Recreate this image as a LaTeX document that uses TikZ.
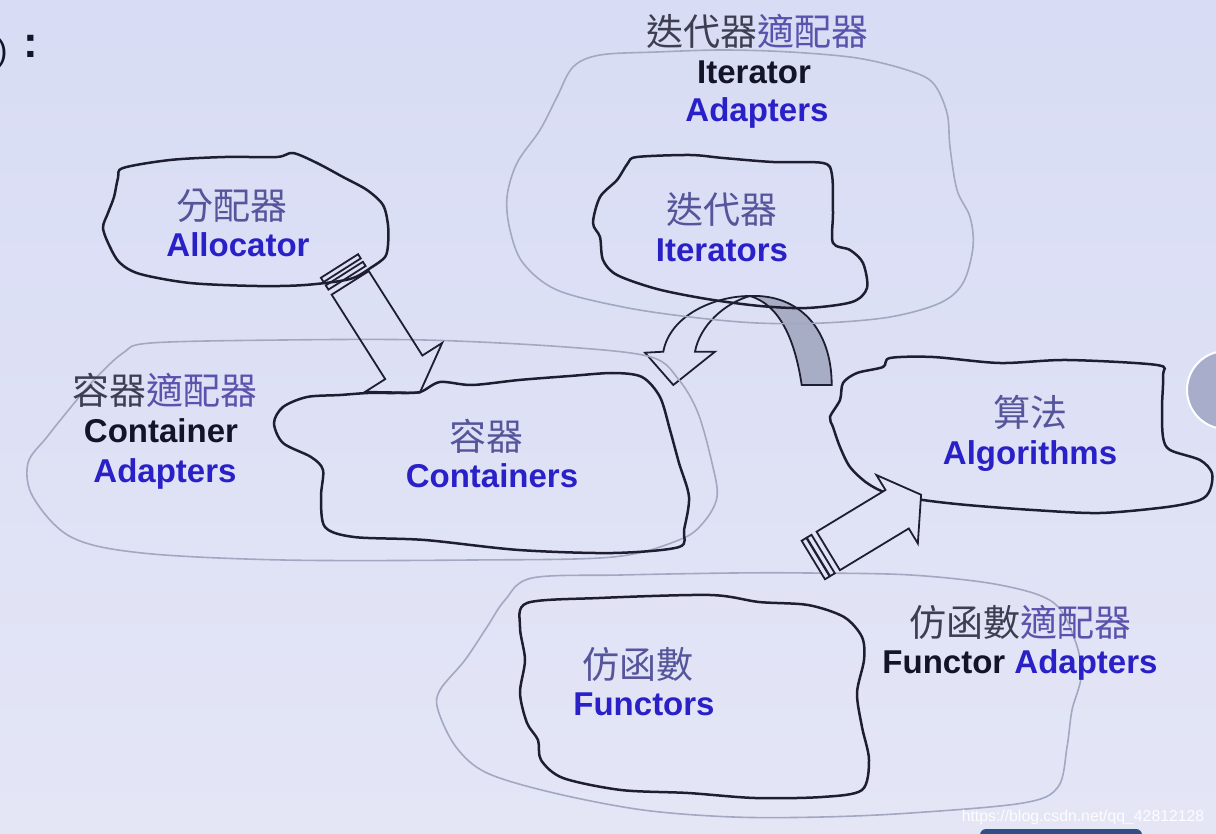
\documentclass[tikz,border=0pt]{standalone}
\usepackage{fontspec}
\setmainfont{Liberation Sans}
\newfontfamily\cjk{Noto Sans CJK TC}
\definecolor{bgtop}{HTML}{D8DCF4}
\definecolor{bgbot}{HTML}{E4E6F6}
\definecolor{bgmid}{HTML}{E0E2F5}
\definecolor{inkc}{HTML}{1E1E30}
\definecolor{greyc}{HTML}{A3A8C2}
\definecolor{blu}{HTML}{2A20C8}
\definecolor{blk}{HTML}{141428}
\definecolor{cjkc}{HTML}{56549A}
\definecolor{cjkg}{HTML}{3E3E52}
\definecolor{cjkp}{HTML}{5A52AC}
\definecolor{shadec}{HTML}{A8ADC6}
\definecolor{circc}{HTML}{A7ADCB}
\definecolor{barc}{HTML}{2F4F86}
\tikzset{
  blobk/.style={draw=inkc, line width=1.25pt},
  blobg/.style={draw=greyc, line width=0.8pt},
  arrowline/.style={draw=inkc, line width=0.9pt, line join=miter},
  cjklab/.style={font=\cjk\fontsize{18.5}{20}\selectfont, text=cjkc, anchor=base, inner sep=0pt},
  enb/.style={font=\bfseries\fontsize{16.5}{18}\selectfont, text=blu, anchor=base, inner sep=0pt},
  enk/.style={enb, text=blk},
}
\begin{document}
\begin{tikzpicture}[x=0.5pt, y=-0.5pt]
\useasboundingbox (0,0) rectangle (1216,834);
\clip (0,0) rectangle (1216,834);
\shade[top color=bgtop, bottom color=bgbot] (0,0) rectangle (1216,834);

% right edge circle and bottom bar
\fill[circc] (1226,390) circle (39);
\draw[white, line width=1pt] (1226,390) circle (39);
\fill[barc, rounded corners=3pt] (980,829) rectangle (1142,850);

% curved arrow (Iterators -> Containers)
\filldraw[fill=shadec, arrowline] (750,296) .. controls (800,294) and (831.7,330) .. (831.7,385)
  -- (801.7,385) .. controls (795,340) and (780,305) .. (750,296) -- cycle;
\draw[arrowline] (750,296) .. controls (715,296) and (670,315) .. (663.3,351.7)
  -- (645,352.7) -- (673.3,385) -- (715,351.7) -- (695,351.7)
  .. controls (700,325) and (725,303) .. (750,296);

% grey adapter blobs
\draw[blobg] plot[smooth cycle, tension=0.55] coordinates {(600,55) (657,52) (723,50) (790,52) (857,58) (907,70) (933,83) (947,113) (950,147) (957,190) (970,217) (973,247) (963,283) (940,303) (890,317) (823,323) (757,323) (690,317) (623,307) (557,290) (523,263) (510,230) (507,197) (517,163) (540,130) (557,97) (573,67)};
\draw[blobg] plot[smooth cycle, tension=0.55] coordinates {(123,353) (151,343) (283,340) (425,340) (566,347) (651,357) (679,380) (698,413) (712,463) (717,497) (703,523) (679,540) (613,557) (472,560) (283,560) (142,553) (71,537) (33,497) (28,463) (47,437) (71,407) (94,380)};
\draw[blobg] plot[smooth cycle, tension=0.55] coordinates {(532,578) (621,575) (733,573) (808,573) (911,575) (1000,585) (1054,603) (1076,643) (1081,677) (1072,710) (1067,747) (1058,787) (1023,803) (911,813) (822,817) (733,817) (643,810) (554,793) (487,773) (456,747) (438,710) (440,690) (465,660) (487,627) (505,600)};

% black blobs
\draw[blobk] plot[smooth cycle, tension=0.5] coordinates {(123,168) (170,160) (225,157) (277,157) (293,153) (317,163) (343,177) (367,190) (383,205) (388,225) (388,245) (385,257) (372,267) (350,279) (305,285) (257,286) (190,283) (140,274) (120,263) (110,247) (103,228) (108,213) (114,197) (118,178)};
\draw[blobk] plot[smooth cycle, tension=0.5] coordinates {(637,157) (690,155) (723,158) (773,162) (823,163) (832,175) (833,213) (833,243) (850,250) (863,263) (867,288) (852,302) (807,308) (760,306) (707,299) (657,289) (617,275) (603,260) (600,237) (593,223) (600,197) (617,180) (628,163)};
\draw[blobk] plot[smooth cycle, tension=0.5] coordinates {(340,395) (368,393) (395,393) (420,392) (440,382) (472,385) (519,380) (570,376) (613,373) (642,377) (660,397) (670,430) (679,463) (689,497) (684,530) (679,547) (613,553) (519,550) (425,540) (354,537) (325,527) (321,497) (323,470) (311,457) (283,443) (274,423) (283,407) (307,397)};
\draw[blobk] plot[smooth cycle, tension=0.5] coordinates {(527,603) (599,598) (710,595) (759,602) (808,605) (844,617) (862,637) (864,660) (857,693) (862,727) (869,760) (862,790) (822,797) (755,798) (688,793) (621,790) (563,778) (541,760) (538,740) (527,723) (520,693) (525,660) (520,627)};
\draw[blobk] plot[smooth cycle, tension=0.5] coordinates {(857,373) (883,367) (890,358) (933,357) (1000,363) (1067,360) (1157,365) (1163,375) (1162,407) (1163,437) (1170,450) (1200,460) (1212,473) (1210,490) (1200,500) (1167,507) (1100,513) (1033,510) (967,505) (923,500) (887,493) (867,483) (850,467) (840,447) (833,427) (830,417) (840,400) (843,383)};

% straight arrow: Allocator -> Containers
\begin{scope}[shift={(339.5,266)}, rotate=-57.6]
  \draw[arrowline] (0,-22) -- (5,-22) -- (5,22) -- (0,22) -- cycle;
  \draw[arrowline] (9,-22) -- (14,-22) -- (14,22) -- (9,22) -- cycle;
  \draw[arrowline] (20,-22) -- (120,-22) -- (120,-45.5) -- (150,0) -- (120,45.5) -- (120,22) -- (20,22) -- cycle;
\end{scope}

% straight arrow: Functors -> Algorithms
\begin{scope}[shift={(813.3,560)}, rotate=31.2]
  \filldraw[fill=bgmid, arrowline] (0,-22.5) -- (5.5,-22.5) -- (5.5,22.5) -- (0,22.5) -- cycle;
  \filldraw[fill=bgmid, arrowline] (6,-22.5) -- (11.5,-22.5) -- (11.5,22.5) -- (6,22.5) -- cycle;
  \filldraw[fill=bgmid, arrowline] (17.5,-22.5) -- (98,-22.5) -- (98,-40) -- (126,0) -- (98,40) -- (98,22.5) -- (17.5,22.5) -- cycle;
\end{scope}

% labels
\node[cjklab] (itadc) at (757,46) {{\color{cjkg}迭代器}{\color{cjkp}適配器}};
\node[enk] (itade1) at (754,84) {Iterator};
\node[enb] (itade2) at (757,122) {Adapters};
\node[cjklab] (itc) at (722,224) {迭代器};
\node[enb] (ite) at (722,262) {Iterators};
\node[cjklab] (alc) at (232,220) {分配器};
\node[enb] (ale) at (238,257) {Allocator};
\node[cjklab] (coadc) at (165,404) {{\color{cjkg}容器}{\color{cjkp}適配器}};
\node[enk] (coade1) at (161,442) {Container};
\node[enb] (coade2) at (165,482) {Adapters};
\node[cjklab] (coc) at (486,451) {容器};
\node[enb] (coe) at (492,487) {Containers};
\node[cjklab] (agc) at (1030,426) {算法};
\node[enb] (age) at (1030,464) {Algorithms};
\node[cjklab] (fuadc) at (1020,636) {{\color{cjkg}仿函數}{\color{cjkp}適配器}};
\node[enb] (fuade) at (1020,673) {{\color{blk}Functor} Adapters};
\node[cjklab] (fuc) at (638,678) {仿函數};
\node[enb] (fue) at (644,715) {Functors};

% top-left fragment
\node[font=\fontsize{16}{18}\selectfont, text=blk, anchor=base east, inner sep=0pt] (paren) at (8,62) {)};
\node[font=\bfseries\fontsize{22}{24}\selectfont, text=blk, anchor=base, inner sep=0pt] (colon) at (31,58) {:};

% watermark
\node[font=\fontsize{7.9}{9}\selectfont, text=white, text opacity=0.9, anchor=base, inner sep=0pt] (wm) at (1083,821) {https://blog.csdn.net/qq\_42812128};
\end{tikzpicture}
\end{document}
